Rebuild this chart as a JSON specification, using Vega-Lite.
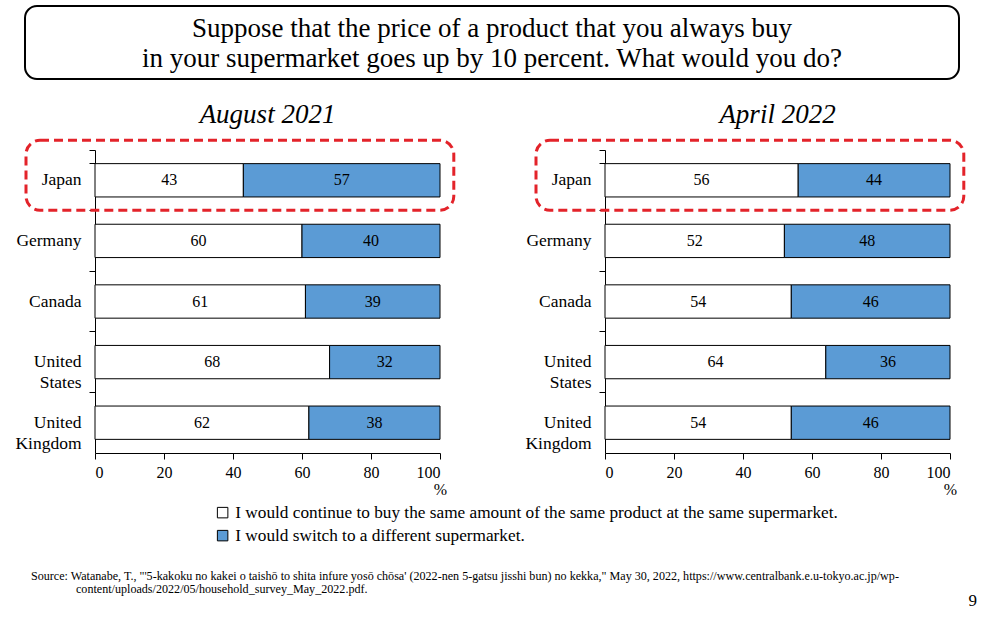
{
  "$schema": "https://vega.github.io/schema/vega-lite/v6.json",
  "background": "white",
  "padding": {"left": 14, "top": 5, "right": 10, "bottom": 5},
  "config": {
    "font": "Liberation Serif",
    "view": {"stroke": null},
    "axis": {"domainColor": "black", "tickColor": "black", "labelColor": "black", "titleColor": "black", "grid": false}
  },
  "spacing": 73,
  "vconcat": [
    {
      "spacing": 21,
      "vconcat": [
        {
          "width": 934,
          "height": 73,
          "view": {"stroke": "black", "strokeWidth": 2, "cornerRadius": 12, "fill": "white"},
          "data": {"values": [{"question": "Suppose that the price of a product that you always buy\nin your supermarket goes up by 10 percent. What would you do?"}]},
          "mark": {"type": "text", "fontSize": 27, "lineBreak": "\n", "lineHeight": 30, "baseline": "middle", "dy": -14, "color": "black"},
          "encoding": {"text": {"field": "question"}}
        },
        {
          "bounds": "flush",
          "spacing": 69,
          "hconcat": [
            {
              "width": 1,
              "height": 303,
              "data": {"values": [{"blank": ""}]},
              "mark": {"type": "text"},
              "encoding": {"text": {"field": "blank"}}
            },
            {
              "data": {
                "values": [
                  {"period": "August 2021", "country": "Japan", "answer": "continue", "value": 43},
                  {"period": "August 2021", "country": "Japan", "answer": "switch", "value": 57},
                  {"period": "August 2021", "country": "Germany", "answer": "continue", "value": 60},
                  {"period": "August 2021", "country": "Germany", "answer": "switch", "value": 40},
                  {"period": "August 2021", "country": "Canada", "answer": "continue", "value": 61},
                  {"period": "August 2021", "country": "Canada", "answer": "switch", "value": 39},
                  {"period": "August 2021", "country": "United States", "answer": "continue", "value": 68},
                  {"period": "August 2021", "country": "United States", "answer": "switch", "value": 32},
                  {"period": "August 2021", "country": "United Kingdom", "answer": "continue", "value": 62},
                  {"period": "August 2021", "country": "United Kingdom", "answer": "switch", "value": 38},
                  {"period": "April 2022", "country": "Japan", "answer": "continue", "value": 56},
                  {"period": "April 2022", "country": "Japan", "answer": "switch", "value": 44},
                  {"period": "April 2022", "country": "Germany", "answer": "continue", "value": 52},
                  {"period": "April 2022", "country": "Germany", "answer": "switch", "value": 48},
                  {"period": "April 2022", "country": "Canada", "answer": "continue", "value": 54},
                  {"period": "April 2022", "country": "Canada", "answer": "switch", "value": 46},
                  {"period": "April 2022", "country": "United States", "answer": "continue", "value": 64},
                  {"period": "April 2022", "country": "United States", "answer": "switch", "value": 36},
                  {"period": "April 2022", "country": "United Kingdom", "answer": "continue", "value": 54},
                  {"period": "April 2022", "country": "United Kingdom", "answer": "switch", "value": 46}
                ]
              },
              "facet": {
                "column": {
                  "field": "period", "type": "nominal", "sort": ["August 2021", "April 2022"], "title": null,
                  "header": {"labelFontSize": 27, "labelFontStyle": "italic", "labelColor": "black", "labelPadding": 21}
                }
              },
              "bounds": "flush",
              "spacing": 165,
              "resolve": {"axis": {"y": "independent"}},
              "spec": {
                "width": 345,
                "height": 303,
                "transform": [
                  {"stack": "value", "groupby": ["period", "country"], "sort": [{"field": "answer", "order": "ascending"}], "as": ["v0", "v1"]},
                  {"calculate": "(datum.v0 + datum.v1) / 2", "as": "mid"}
                ],
                "encoding": {
                  "y": {
                    "field": "country", "type": "nominal", "title": null,
                    "sort": ["Japan", "Germany", "Canada", "United States", "United Kingdom"],
                    "scale": {"paddingInner": 0.45, "paddingOuter": 0.225},
                    "axis": {"labelFontSize": 17.5, "labelExpr": "split(datum.label, ' ')", "labelLineHeight": 21, "labelPadding": 8, "tickSize": 6, "bandPosition": -0.409, "tickExtra": true}
                  }
                },
                "layer": [
                  {
                    "mark": {"type": "bar", "stroke": "black", "strokeWidth": 1},
                    "encoding": {
                      "x": {"field": "v0", "type": "quantitative", "scale": {"domain": [0, 100]}, "axis": {"values": [0, 20, 40, 60, 80, 100], "labelFontSize": 16, "tickSize": 6, "labelPadding": 5, "title": "%", "titleFontSize": 16, "titleFontWeight": "normal", "titleAnchor": "end", "titleAlign": "center", "titlePadding": 1}},
                      "x2": {"field": "v1"},
                      "color": {
                        "field": "answer", "type": "nominal",
                        "scale": {"domain": ["continue", "switch"], "range": ["white", "#5b9bd5"]},
                        "legend": {
                          "title": null, "orient": "none", "legendX": 189, "legendY": 498, "direction": "vertical",
                          "symbolType": "square", "symbolSize": 110, "symbolStrokeColor": "black", "symbolStrokeWidth": 1,
                          "labelFontSize": 17.25, "labelColor": "black", "labelLimit": 1000, "rowPadding": 5, "labelOffset": 4,
                          "labelExpr": "datum.value == 'continue' ? 'I would continue to buy the same amount of the same product at the same supermarket.' : 'I would switch to a different supermarket.'"
                        }
                      }
                    }
                  },
                  {
                    "mark": {"type": "text", "fontSize": 16, "color": "black", "baseline": "middle"},
                    "encoding": {
                      "x": {"field": "mid", "type": "quantitative"},
                      "text": {"field": "value", "type": "quantitative"}
                    }
                  },
                  {
                    "transform": [{"filter": "datum.country == 'Japan' && datum.answer == 'continue'"}],
                    "mark": {"type": "bar", "height": 70, "yOffset": -5, "fill": "transparent", "stroke": "#e3232a", "strokeWidth": 3, "strokeDash": [9, 5], "cornerRadius": 14},
                    "encoding": {
                      "x": {"datum": -20, "type": "quantitative"},
                      "x2": {"datum": 104}
                    }
                  }
                ]
              }
            }
          ]
        }
      ]
    },
    {
      "width": 949,
      "height": 25,
      "data": {
        "values": [
          {"row": "a", "note": "Source: Watanabe, T., \"'5-kakoku no kakei o taishō to shita infure yosō chōsa' (2022-nen 5-gatsu jisshi bun) no kekka,\" May 30, 2022, https://www.centralbank.e.u-tokyo.ac.jp/wp-"},
          {"row": "b", "note": "content/uploads/2022/05/household_survey_May_2022.pdf."},
          {"row": "c", "note": "9"}
        ]
      },
      "encoding": {
        "y": {"field": "row", "type": "ordinal", "axis": null, "scale": {"padding": 0}},
        "text": {"field": "note"}
      },
      "layer": [
        {
          "transform": [{"filter": "datum.row == 'a'"}],
          "mark": {"type": "text", "align": "left", "baseline": "middle", "fontSize": 12.1, "dx": 6, "color": "black"},
          "encoding": {"x": {"datum": 0, "type": "quantitative", "scale": {"domain": [0, 1]}, "axis": null}}
        },
        {
          "transform": [{"filter": "datum.row == 'b'"}],
          "mark": {"type": "text", "align": "left", "baseline": "middle", "fontSize": 12.1, "dx": 51, "color": "black"},
          "encoding": {"x": {"datum": 0, "type": "quantitative"}}
        },
        {
          "transform": [{"filter": "datum.row == 'c'"}],
          "mark": {"type": "text", "align": "right", "baseline": "middle", "fontSize": 17, "dx": 3, "color": "black"},
          "encoding": {"x": {"datum": 1, "type": "quantitative"}}
        }
      ]
    }
  ]
}
